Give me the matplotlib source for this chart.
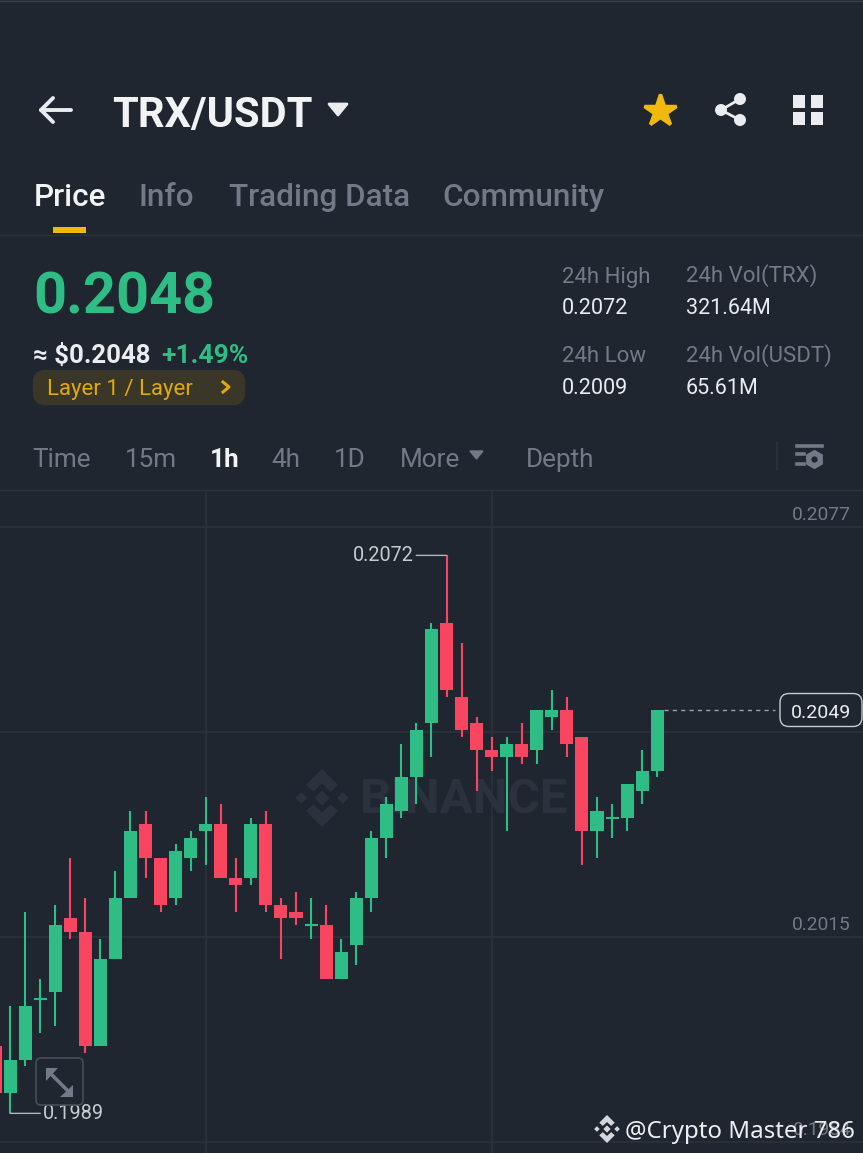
import matplotlib
matplotlib.use('Agg')
import matplotlib.pyplot as plt
from matplotlib.patches import FancyBboxPatch, Polygon, Circle
import numpy as np

# hourly candles, oldest first
opens = [0.1999, 0.1992, 0.1997, 0.2006, 0.2007, 0.2018, 0.2016, 0.1999, 0.2012, 0.2021,
         0.2032, 0.2027, 0.2021, 0.2027, 0.2031, 0.2032, 0.2024, 0.2024, 0.2032, 0.2020,
         0.2019, 0.2017, 0.2017, 0.2009, 0.2014, 0.2021, 0.2030, 0.2034, 0.2039, 0.2047,
         0.2062, 0.2051, 0.2047, 0.2043, 0.2042, 0.2044, 0.2043, 0.2048, 0.2049, 0.2045,
         0.2031, 0.2033, 0.2033, 0.2037, 0.2040]
closes = [0.1992, 0.1997, 0.2005, 0.2006, 0.2017, 0.2016, 0.1999, 0.2012, 0.2021, 0.2031,
          0.2027, 0.2020, 0.2028, 0.2030, 0.2032, 0.2024, 0.2023, 0.2032, 0.2020, 0.2018,
          0.2018, 0.2017, 0.2009, 0.2013, 0.2021, 0.2030, 0.2035, 0.2039, 0.2046, 0.2061,
          0.2052, 0.2046, 0.2043, 0.2042, 0.2044, 0.2042, 0.2049, 0.2049, 0.2044, 0.2031,
          0.2034, 0.2033, 0.2038, 0.2040, 0.2049]
highs = [0.1999, 0.2005, 0.2019, 0.2009, 0.2020, 0.2027, 0.2021, 0.2015, 0.2025, 0.2034,
         0.2034, 0.2027, 0.2029, 0.2031, 0.2036, 0.2035, 0.2027, 0.2033, 0.2034, 0.2021,
         0.2022, 0.2021, 0.2020, 0.2015, 0.2022, 0.2031, 0.2036, 0.2044, 0.2047, 0.2062,
         0.2072, 0.2059, 0.2048, 0.2045, 0.2045, 0.2047, 0.2049, 0.2052, 0.2051, 0.2045,
         0.2036, 0.2035, 0.2038, 0.2043, 0.2049]
lows = [0.1992, 0.1989, 0.1996, 0.2001, 0.2002, 0.2015, 0.1998, 0.1999, 0.2012, 0.2021,
        0.2024, 0.2019, 0.2020, 0.2025, 0.2026, 0.2024, 0.2019, 0.2023, 0.2019, 0.2012,
        0.2017, 0.2015, 0.2009, 0.2009, 0.2011, 0.2019, 0.2027, 0.2033, 0.2035, 0.2042,
        0.2051, 0.2045, 0.2037, 0.2040, 0.2031, 0.2041, 0.2041, 0.2046, 0.2042, 0.2026,
        0.2027, 0.2030, 0.2031, 0.2035, 0.2039]
grid_prices = [0.20762, 0.20457, 0.20152, 0.19847]
grid_labels = ['0.2077', '0.2046', '0.2015', '0.1984']
time_grid = [14, 33]
last_price = 0.2049

tabs = ['Price', 'Info', 'Trading Data', 'Community']
intervals = ['Time', '15m', '1h', '4h', '1D', 'More', 'Depth']

BG = '#1f2630'
GREEN = '#2ebd85'
RED = '#fa4560'
GRID = '#2b323d'
DIM = '#727a87'
LIGHT = '#eaecef'
YELLOW = '#f0b90b'
FONT = 'Roboto'

W, H = 863, 1153
fig = plt.figure(figsize=(W / 100, H / 100), dpi=100, facecolor=BG)


def pixel_axes(z):
    a = fig.add_axes([0, 0, 1, 1], zorder=z)
    a.set_xlim(0, W)
    a.set_ylim(H, 0)
    a.axis('off')
    return a


def logo(a, cx, cy, s, color):
    # binance mark: centre and side diamonds plus two chevrons
    for dx, dy, r in [(0, 0, 0.26), (-0.72, 0, 0.2), (0.72, 0, 0.2)]:
        a.add_patch(Polygon([(cx + dx * s, cy - r * s), (cx + (dx + r) * s, cy),
                             (cx + dx * s, cy + r * s), (cx + (dx - r) * s, cy)],
                            fc=color, ec='none'))
    for sign in (-1, 1):
        pts = [(0, 1), (0.55, 0.45), (0.3, 0.22), (0, 0.5), (-0.3, 0.22), (-0.55, 0.45)]
        a.add_patch(Polygon([(cx + x * s, cy + sign * y * s) for x, y in pts], fc=color, ec='none'))


def label(a, x, y, s, size, color=DIM, weight='normal', ha='left', **kw):
    # roboto sits a little high with va=center
    return a.text(x, y + 2, s, fontsize=size, color=color, fontweight=weight, ha=ha, va='center',
                  family=FONT, **kw)


back = pixel_axes(0)
logo(back, 322, 798, 29, '#2b323d')
back.text(464, 800, 'BINANCE', fontsize=35.5, color='#2b323d', fontweight='bold', ha='center',
          va='center', family=FONT)

# chart, the axes run over the whole lower part of the screen
ax = fig.add_axes([0, 0, 1, (H - 490) / H], zorder=1)
ax.patch.set_visible(False)
ax.set_xlim(5 / 15.05, (W + 5) / 15.05)
ax.set_ylim(last_price - 443 / 67225, last_price + 220 / 67225)
for s in ax.spines.values():
    s.set_visible(False)
ax.set_xticks(time_grid)
ax.set_yticks(grid_prices)
ax.tick_params(length=0, labelbottom=False, labelleft=False)
ax.grid(True, color=GRID, lw=1.2)
ax.set_axisbelow(True)

idx = np.arange(len(opens))
o = np.array(opens)
c = np.array(closes)
colors = [GREEN if b >= a else RED for a, b in zip(opens, closes)]
colors[0] = RED
for i in [3, 21, 41]:
    colors[i] = GREEN
ax.vlines(idx, lows, highs, colors=colors, lw=1.5, zorder=3)
ax.bar(idx, np.abs(c - o), bottom=np.minimum(o, c), width=0.865, color=colors, lw=0, zorder=4)
doji = c == o
ax.hlines(c[doji], idx[doji] - 0.43, idx[doji] + 0.43, colors=np.array(colors)[doji], lw=1.5, zorder=4)

for p, s in zip(grid_prices, grid_labels):
    ax.annotate(s, (1, p), xycoords=('axes fraction', 'data'), xytext=(-12, 12), textcoords='offset pixels',
                ha='right', va='center', fontsize=13.8, color=DIM, family=FONT)

hi = highs.index(max(highs))
lo = lows.index(min(lows))
ax.annotate('0.2072', (hi, highs[hi]), xytext=(-33, 0), textcoords='offset pixels', ha='right', va='center',
            fontsize=14.3, color='#c8ccd2', family=FONT,
            arrowprops=dict(arrowstyle='-', color='#b0b5bc', lw=1, shrinkA=0, shrinkB=0))
ax.annotate('0.1989', (lo, lows[lo]), xytext=(33, 0), textcoords='offset pixels', ha='left', va='center',
            fontsize=14.3, color='#c8ccd2', family=FONT,
            arrowprops=dict(arrowstyle='-', color='#b0b5bc', lw=1, shrinkA=0, shrinkB=0))
ax.hlines(last_price, len(opens) - 1 + 0.45, 51.8, colors='#9aa0a9', lw=1, linestyles=(0, (3, 3)), zorder=3)

ui = pixel_axes(2)
ui.plot([0, W], [0.5, 0.5], color='#39404b', lw=1)

# top bar
ui.plot([41, 71], [110, 110], color=LIGHT, lw=2.8, solid_capstyle='round')
ui.plot([53, 41, 53], [98, 110, 122], color=LIGHT, lw=2.8, solid_capstyle='round', solid_joinstyle='round')
label(ui, 112, 113, 'TRX/USDT', 30, '#f2f3f5', 'bold')
ui.add_patch(Polygon([(329, 104), (347, 104), (338, 115)], fc=LIGHT, ec=LIGHT, lw=2, joinstyle='round'))
ui.plot([660], [111], marker='*', ms=24, color=YELLOW, mec=YELLOW, mew=2.5)
for x, y in [(740, 99), (740, 120), (721, 110)]:
    ui.add_patch(Circle((x, y), 6, fc=LIGHT, ec='none'))
ui.plot([740, 721, 740], [99, 110, 120], color=LIGHT, lw=2)
for x in (793, 811):
    for y in (95, 112):
        ui.fill([x, x + 12, x + 12, x], [y, y, y + 12.5, y + 12.5], color=LIGHT, lw=0)

# tabs
for s, x in zip(tabs, [34, 138, 229, 442]):
    label(ui, x, 195, s, 22.7, '#f2f3f5' if s == 'Price' else DIM, 500)
ui.fill([53, 86, 86, 53], [227, 227, 233, 233], color=YELLOW, lw=0)
ui.plot([0, W], [234.5, 234.5], color=GRID, lw=1)

# price block
label(ui, 33, 296, '0.2048', 41.5, GREEN, 'bold')
label(ui, 33, 354, '≈ $0.2048', 18.5, LIGHT, 'bold')
label(ui, 161, 354, '+1.49%', 19, GREEN, 'bold')
ui.add_patch(FancyBboxPatch((37, 374), 204, 27, boxstyle='round,pad=0,rounding_size=8', mutation_aspect=1,
                            fc='#3a3628', ec='#3a3628', lw=6))
label(ui, 47, 388, 'Layer 1 / Layer', 16, '#e0a90f')
ui.plot([223, 229, 223], [382, 387, 392], color='#e0a90f', lw=2.2)

label(ui, 562, 275, '24h High', 16)
label(ui, 562, 306, '0.2072', 15.6, LIGHT)
label(ui, 686, 274, '24h Vol(TRX)', 16)
label(ui, 686, 306, '321.64M', 15.5, LIGHT)
label(ui, 562, 355, '24h Low', 16)
label(ui, 562, 386, '0.2009', 15.6, LIGHT)
label(ui, 686, 354, '24h Vol(USDT)', 16)
label(ui, 686, 386, '65.61M', 15.5, LIGHT)

# interval row
for s, x in zip(intervals, [32, 125, 210, 271, 334, 400, 526]):
    if s == '1h':
        label(ui, x, 458, s, 18.8, '#f2f3f5', 'bold')
    else:
        label(ui, x, 458, s, 18.8)
ui.add_patch(Polygon([(470, 451), (483, 451), (476.5, 459)], fc=DIM, ec=DIM, lw=1))
ui.plot([777, 777], [443, 469], color=GRID, lw=1.4)
ui.plot([797, 822], [445.5, 445.5], color=DIM, lw=2.6)
ui.plot([797, 804], [454, 454], color=DIM, lw=2.6)
ui.plot([797, 804], [464, 464], color=DIM, lw=2.6)
ui.plot([813.5], [459], marker='h', ms=14, color=DIM, mew=0)
ui.plot([813.5], [459], marker='o', ms=4.5, color=BG, mew=0)
ui.plot([0, W], [490, 490], color=GRID, lw=1)

# last price tag
ui.add_patch(FancyBboxPatch((780, 693.5), 82, 33, boxstyle='round,pad=0,rounding_size=9',
                            fc=BG, ec='#c8ccd2', lw=1))
label(ui, 851, 711, '0.2049', 14, LIGHT, ha='right')

# expand button
ui.add_patch(FancyBboxPatch((36, 1058), 47, 47, boxstyle='round,pad=0,rounding_size=5',
                            fc=BG, ec='#474d57', lw=1.2))
ui.plot([50, 69], [1073, 1092], color=DIM, lw=2.6)
ui.add_patch(Polygon([(46, 1068), (58, 1068), (46, 1081)], fc=DIM, ec='none'))
ui.add_patch(Polygon([(73, 1097), (60, 1097), (73, 1085)], fc=DIM, ec='none'))

# watermark
logo(ui, 607, 1129, 14, '#d5d7da')
ui.text(625, 1132, '@Crypto Master 786', fontsize=17.3, color='#eceef0', ha='left', va='center', family='Noto Sans')

fig.savefig('out.png', dpi=100, facecolor=BG)
